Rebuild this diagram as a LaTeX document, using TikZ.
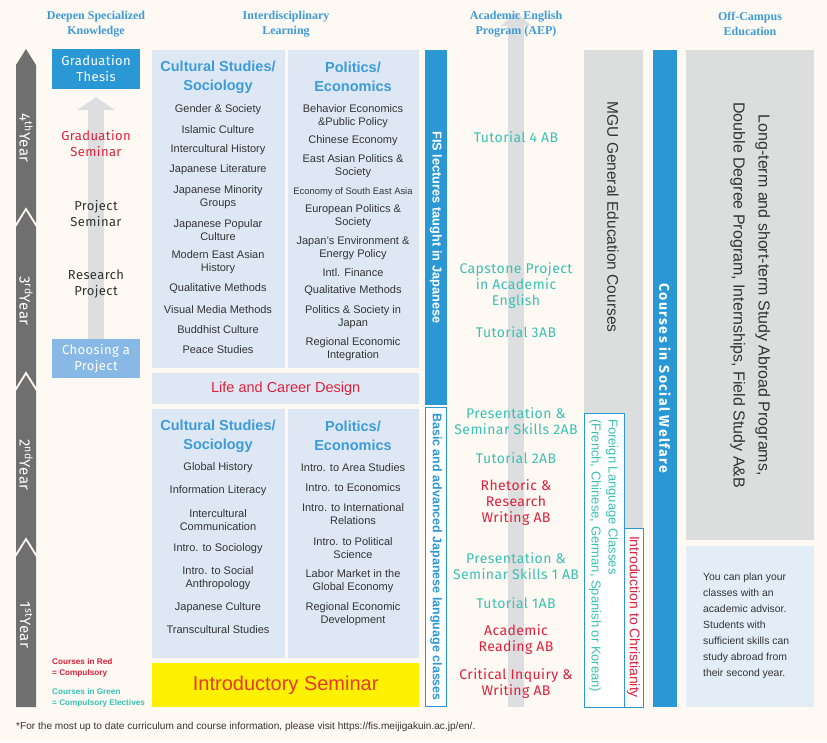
\documentclass[tikz,border=0pt]{standalone}
\usepackage{fontspec}
\setmainfont{Liberation Sans}
\newfontfamily\headserif{Liberation Serif}
\newfontfamily\dinfont[LetterSpace=3]{Fira Sans}
\newfontfamily\dinwide[LetterSpace=10]{Fira Sans}
\usetikzlibrary{arrows.meta}

\definecolor{cream}{HTML}{FEF9F2}
\definecolor{headblue}{HTML}{3D9BDA}
\definecolor{fisblue}{HTML}{2B98D6}
\definecolor{paleblue}{HTML}{88B8E6}
\definecolor{panelblue}{HTML}{DEE8F5}
\definecolor{advblue}{HTML}{E3EDF8}
\definecolor{blockgray}{HTML}{DCDDDD}
\definecolor{arrowgray}{HTML}{DCDEDF}
\definecolor{yeargray}{HTML}{6F6F6F}
\definecolor{ink}{HTML}{333333}
\definecolor{alert}{HTML}{E0203C}
\definecolor{teal}{HTML}{3AC1B4}
\definecolor{seminaryellow}{HTML}{FFF100}
\definecolor{seminarred}{HTML}{E43A2C}

\begin{document}
\begin{tikzpicture}[x=1pt,y=-1pt,
  colhead/.style={font=\headserif\bfseries\fontsize{12}{15}\selectfont, text=headblue, align=center, inner sep=0pt},
  panel/.style={fill=panelblue, inner sep=0pt, anchor=north west},
  grayblock/.style={fill=blockgray, inner sep=0pt, anchor=north west},
  outlined/.style={fill=white, draw=fisblue, line width=1.2pt, inner sep=0pt, anchor=north west},
  course/.style={font=\fontsize{11}{13}\selectfont, text=ink, align=center, inner sep=0pt},
  field/.style={font=\bfseries\fontsize{14.5}{19}\selectfont, text=headblue, align=center, inner sep=0pt},
  din/.style={font=\dinfont\fontsize{13}{16}\selectfont, align=center, inner sep=0pt},
  aep/.style={font=\dinfont\fontsize{14}{16}\selectfont, align=center, inner sep=0pt},
  vert/.style={rotate=-90, inner sep=0pt},
  legend/.style={font=\bfseries\fontsize{8.2}{11}\selectfont, anchor=west, inner sep=0pt}]

\fill[cream] (0,0) rectangle (827,742);
\useasboundingbox (0,0) rectangle (827,742);

% AEP arrow behind its heading
\coordinate (aeptop) at (516,12);
\coordinate (aepbot) at (516,707);
\draw[arrowgray, line width=16pt, -{Triangle[width=30pt,length=14pt]}] (aepbot) -- (aeptop);

% column heads
\node[colhead] (hdeep) at (96,24) {Deepen Specialized\\Knowledge};
\node[colhead] (hinter) at (286,24) {Interdisciplinary\\Learning};
\node[colhead] (haep) at (516,24) {Academic English\\Program (AEP)};
\node[colhead] (hoff) at (750,24) {Off-Campus\\Education};

% years
\fill[yeargray] (16,65) -- (26,49) -- (36,65) -- (36,223) -- (26,207) -- (16,223) -- cycle;
\fill[yeargray] (16,227) -- (26,211) -- (36,227) -- (36,387) -- (26,371) -- (16,387) -- cycle;
\fill[yeargray] (16,391) -- (26,375) -- (36,391) -- (36,553) -- (26,537) -- (16,553) -- cycle;
\fill[yeargray] (16,557) -- (26,541) -- (36,557) -- (36,707) -- (16,707) -- cycle;
\node[vert, text=white, font=\dinfont\fontsize{15}{15}\selectfont] (year4) at (26,138) {4\textsuperscript{th}Year};
\node[vert, text=white, font=\dinfont\fontsize{15}{15}\selectfont] (year3) at (26,301) {3\textsuperscript{rd}Year};
\node[vert, text=white, font=\dinfont\fontsize{15}{15}\selectfont] (year2) at (26,465) {2\textsuperscript{nd}Year};
\node[vert, text=white, font=\dinfont\fontsize{15}{15}\selectfont] (year1) at (26,625) {1\textsuperscript{st}Year};

% deepen specialized knowledge
\node[din, fill=fisblue, text=white, minimum width=88pt, minimum height=40pt] (thesis) at (96,69) {Graduation\\Thesis};
\node[din, fill=paleblue, text=white, minimum width=88pt, minimum height=39pt] (choose) at (96,358.5) {Choosing a\\Project};
\coordinate (thesistip) at (96,97);
\draw[arrowgray, line width=16pt, -{Triangle[width=37pt,length=13pt]}] (choose.north) -- (thesistip);
\node[din, text=alert] (gradsem) at (96,144) {Graduation\\Seminar};
\node[din, text=ink] (projsem) at (96,214) {Project\\Seminar};
\node[din, text=ink] (resproj) at (96,284) {Research\\Project};

\node[legend, text=alert] (red1) at (52,662) {Courses in Red};
\node[legend, text=alert] (red2) at (52,673) {= Compulsory};
\node[legend, text=teal] (green1) at (52,692) {Courses in Green};
\node[legend, text=teal] (green2) at (52,703) {= Compulsory Electives};

% interdisciplinary learning
\node[panel, minimum width=133pt, minimum height=318pt] (culup) at (152,50) {};
\node[panel, minimum width=131pt, minimum height=318pt] (polup) at (288,50) {};
\node[panel, minimum width=267pt, minimum height=31pt] (life) at (152,373) {};
\node[panel, minimum width=133pt, minimum height=249pt] (cullow) at (152,409) {};
\node[panel, minimum width=131pt, minimum height=249pt] (pollow) at (288,409) {};
\node[panel, fill=seminaryellow, minimum width=267pt, minimum height=44pt] (intro) at (152,663) {};
\node[font=\fontsize{14.5}{16}\selectfont, text=alert, inner sep=0pt] (lifetext) at (life.center) {Life and Career Design};
\node[font=\fontsize{20}{22}\selectfont, text=seminarred, inner sep=0pt] (introtext) at (intro.center) {Introductory Seminar};

\node[field] (culhead) at (218,77) {Cultural Studies/\\Sociology};
\node[course] (cu1) at (218,110) {Gender \& Society};
\node[course] (cu2) at (218,130) {Islamic Culture};
\node[course] (cu3) at (218,150) {Intercultural History};
\node[course] (cu4) at (218,170) {Japanese Literature};
\node[course] (cu5) at (218,197) {Japanese Minority\\Groups};
\node[course] (cu6) at (218,230) {Japanese Popular\\Culture};
\node[course] (cu7) at (218,262) {Modern East Asian\\History};
\node[course] (cu8) at (218,289) {Qualitative Methods};
\node[course] (cu9) at (218,310) {Visual Media Methods};
\node[course] (cu10) at (218,330) {Buddhist Culture};
\node[course] (cu11) at (218,350) {Peace Studies};

\node[field] (polhead) at (353,77) {Politics/\\Economics};
\node[course] (pu1) at (353,116) {Behavior Economics\\\&Public Policy};
\node[course] (pu2) at (353,141) {Chinese Economy};
\node[course] (pu3) at (353,166) {East Asian Politics \&\\Society};
\node[course, font=\fontsize{9.4}{13}\selectfont] (pu4) at (353,192) {Economy of South East Asia};
\node[course] (pu5) at (353,216) {European Politics \&\\Society};
\node[course] (pu6) at (353,248) {Japan's Environment \&\\Energy Policy};
\node[course] (pu7) at (353,273) {Intl. Finance};
\node[course] (pu8) at (353,291) {Qualitative Methods};
\node[course] (pu9) at (353,317) {Politics \& Society in\\Japan};
\node[course] (pu10) at (353,349) {Regional Economic\\Integration};

\node[field] (culhead2) at (218,436) {Cultural Studies/\\Sociology};
\node[course] (cl1) at (218,468) {Global History};
\node[course] (cl2) at (218,491) {Information Literacy};
\node[course] (cl3) at (218,520) {Intercultural\\Communication};
\node[course] (cl4) at (218,549) {Intro. to Sociology};
\node[course] (cl5) at (218,578) {Intro. to Social\\Anthropology};
\node[course] (cl6) at (218,608) {Japanese Culture};
\node[course] (cl7) at (218,630) {Transcultural Studies};

\node[field] (polhead2) at (353,436) {Politics/\\Economics};
\node[course] (pl1) at (353,468) {Intro. to Area Studies};
\node[course] (pl2) at (353,488) {Intro. to Economics};
\node[course] (pl3) at (353,514) {Intro. to International\\Relations};
\node[course] (pl4) at (353,548) {Intro. to Political\\Science};
\node[course] (pl5) at (353,581) {Labor Market in the\\Global Economy};
\node[course] (pl6) at (353,614) {Regional Economic\\Development};

% japanese bars
\node[vert, fill=fisblue, minimum width=355pt, minimum height=22pt, text=white, font=\bfseries\fontsize{12.8}{14}\selectfont] (fisjp) at (436,227.5) {FIS lectures taught in Japanese};
\node[vert, fill=white, draw=fisblue, line width=1.2pt, minimum width=299pt, minimum height=21pt, text=fisblue, font=\bfseries\fontsize{12.5}{14}\selectfont] (jplang) at (436,557) {Basic and advanced Japanese language classes};

% academic english program
\node[aep, text=teal] (tut4) at (516,137) {Tutorial 4 AB};
\node[aep, text=teal] (capstone) at (516,286) {Capstone Project\\in Academic\\English};
\node[aep, text=teal] (tut3) at (516,332) {Tutorial 3AB};
\node[aep, text=teal] (pres2) at (516,421) {Presentation \&\\Seminar Skills 2AB};
\node[aep, text=teal] (tut2) at (516,458) {Tutorial 2AB};
\node[aep, text=alert] (rhet) at (516,503) {Rhetoric \&\\Research\\Writing AB};
\node[aep, text=teal] (pres1) at (516,566) {Presentation \&\\Seminar Skills 1 AB};
\node[aep, text=teal] (tut1) at (516,603) {Tutorial 1AB};
\node[aep, text=alert] (acread) at (516,640) {Academic\\Reading AB};
\node[aep, text=alert] (critinq) at (516,684) {Critical Inquiry \&\\Writing AB};

% general education
\node[grayblock, minimum width=59pt, minimum height=657pt] (mgu) at (584,50) {};
\node[vert, text=ink, font=\fontsize{15.5}{16}\selectfont] (mgutext) at (613,217) {MGU General Education Courses};
\node[outlined, minimum width=40pt, minimum height=294pt] (forlang) at (584,413) {};
\node[vert, anchor=west, align=left, text=teal, font=\fontsize{13}{17}\selectfont] (fortext) at (603.5,419) {Foreign Language Classes\\(French, Chinese, German, Spanish or Korean)};
\node[outlined, minimum width=19pt, minimum height=179pt] (christ) at (624,528) {};
\node[vert, text=alert, font=\fontsize{14}{14}\selectfont] (christtext) at (633.5,617) {Introduction to Christianity};
\node[vert, fill=fisblue, minimum width=657pt, minimum height=24pt, text=white, font=\dinwide\bfseries\fontsize{14}{14}\selectfont] (welfare) at (665,378.5) {Courses in Social Welfare};

% off-campus
\node[grayblock, minimum width=128pt, minimum height=490pt] (abroad) at (686,50) {};
\node[vert, align=center, text=ink, font=\fontsize{16}{25}\selectfont] (abroadtext) at (abroad.center) {Long-term and short-term Study Abroad Programs,\\Double Degree Program, Internships, Field Study A\&B};
\node[panel, fill=advblue, minimum width=128pt, minimum height=161pt] (advisor) at (686,546) {};
\node[anchor=north west, align=left, inner sep=0pt, text=ink, font=\fontsize{10.4}{16}\selectfont] (advtext) at (703,573) {You can plan your\\classes with an\\academic advisor.\\Students with\\sufficient skills can\\study abroad from\\their second year.};

\node[anchor=west, inner sep=0pt, text=ink, font=\fontsize{10.1}{12}\selectfont] (note) at (16,727) {*For the most up to date curriculum and course information, please visit https://fis.meijigakuin.ac.jp/en/.};
\end{tikzpicture}
\end{document}
